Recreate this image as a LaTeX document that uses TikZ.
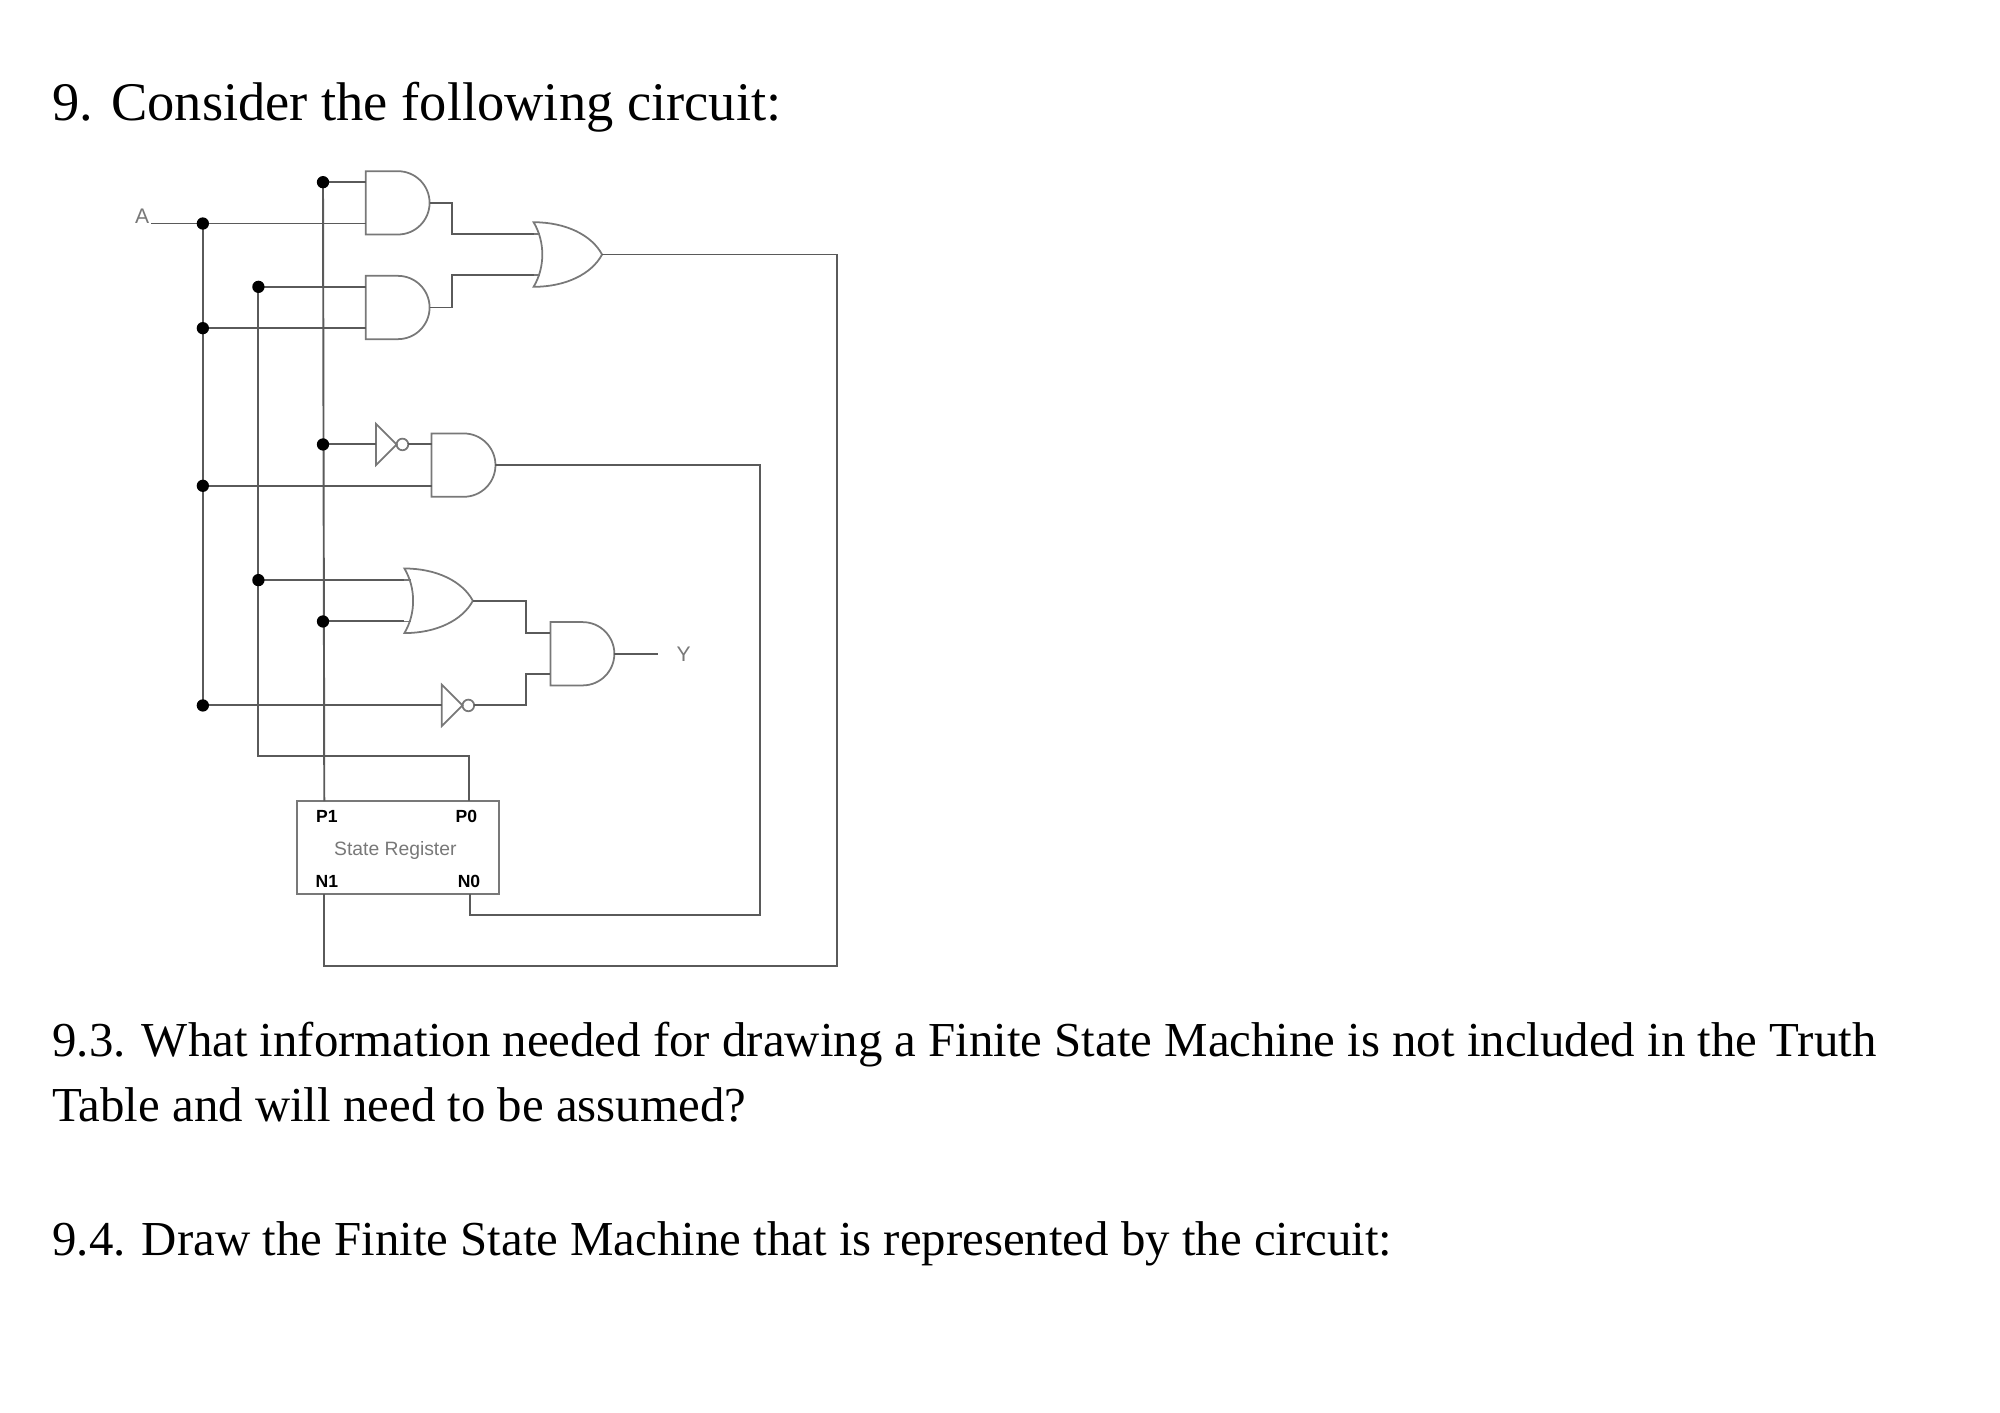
\documentclass[tikz,border=0pt]{standalone}
\usepackage{fontspec}
\setmainfont{Liberation Serif}
\newfontfamily\wirefont{Liberation Sans}
\usepackage{tikz}
\definecolor{wiregray}{RGB}{90,90,90}
\definecolor{gategray}{RGB}{120,120,120}

\tikzset{
  wire/.style={wiregray, line width=0.55pt},
  gate/.style={gategray, line width=0.5pt},
  joint/.style={circle, fill=black, inner sep=0pt, minimum size=3.5pt},
  pinlabel/.style={font=\wirefont\bfseries\fontsize{5}{6}\selectfont, inner sep=0pt},
  andg/.pic={
    \draw[gate] (0,-24.5) -- (25,-24.5) arc[start angle=-90, end angle=90, radius=24.5] -- (0,24.5) -- cycle;
    \coordinate (-in1) at (0,-16);
    \coordinate (-in2) at (0,16);
    \coordinate (-out) at (49.5,0);
  },
  org/.pic={
    \draw[gate] (0,-25) .. controls (25,-25) and (45,-15) .. (53,0)
      .. controls (45,15) and (25,25) .. (0,25)
      .. controls (9,10) and (9,-10) .. (0,-25) -- cycle;
    \draw[gate] (0,-16) -- (5,-16) (0,16) -- (5,16);
    \coordinate (-in1) at (0,-16);
    \coordinate (-in2) at (0,16);
    \coordinate (-out) at (53,0);
  },
  notg/.pic={
    \draw[gate] (0,-16) -- (16,0) -- (0,16) -- cycle;
    \draw[gate] (20.5,0) circle (4.5);
    \coordinate (-in) at (0,0);
    \coordinate (-out) at (25,0);
  }
}

\begin{document}
\begin{tikzpicture}[x=0.01292cm, y=-0.01292cm]
  \useasboundingbox (0,0) rectangle (1548,1093);

  % question text
  \node[anchor=base west, inner sep=0pt, font=\fontsize{15.5}{18}\selectfont] (title) at (40,93) {9. Consider the following circuit:};
  \node[anchor=base west, inner sep=0pt, font=\fontsize{13.9}{16}\selectfont] (q3a) at (40,818) {9.3. What information needed for drawing a Finite State Machine is not included in the Truth};
  \node[anchor=base west, inner sep=0pt, font=\fontsize{13.9}{16}\selectfont] (q3b) at (40,868) {Table and will need to be assumed?};
  \node[anchor=base west, inner sep=0pt, font=\fontsize{13.9}{16}\selectfont] (q4) at (40,972) {9.4. Draw the Finite State Machine that is represented by the circuit:};

  % gates
  \pic (and1) at (283,157) {andg};
  \pic (and2) at (283,238) {andg};
  \pic (or1)  at (413,197) {org};
  \pic (not1) at (291,344) {notg};
  \pic (and3) at (334,360) {andg};
  \pic (or2)  at (313,465) {org};
  \pic (and4) at (426,506) {andg};
  \pic (not2) at (342,546) {notg};

  % state register
  \draw[gate] (230,620) rectangle (386,692);
  \node[font=\wirefont\fontsize{5.5}{6}\selectfont, text=gategray] (reg) at (306,658) {State Register};
  \node[pinlabel] (p1) at (253,632) {P1};
  \node[pinlabel] (p0) at (361,632) {P0};
  \node[pinlabel] (n1) at (253,682) {N1};
  \node[pinlabel] (n0) at (363,682) {N0};
  \coordinate (P1pin) at (251,620);
  \coordinate (P0pin) at (363,620);
  \coordinate (N1pin) at (251,692);
  \coordinate (N0pin) at (364,692);

  % input A and buses
  \node[font=\wirefont\fontsize{6}{7}\selectfont, text=gategray] (A) at (110,167) {A};
  \coordinate (Ain) at (117,173);
  \draw[wire] (Ain) -- (and1-in2);
  \draw[wire] (157,173) -- (157,546);
  \draw[wire] (200,222) -- (200,585) -| (P0pin);
  \draw[wire] (250,141) -- (P1pin);

  % bus taps
  \draw[wire] (157,0 |- and2-in2) -- (and2-in2);
  \draw[wire] (157,0 |- and3-in2) -- (and3-in2);
  \draw[wire] (157,0 |- not2-in) -- (not2-in);
  \draw[wire] (200,0 |- and2-in1) -- (and2-in1);
  \draw[wire] (200,0 |- or2-in1) -- (or2-in1);
  \draw[wire] (250,0 |- and1-in1) -- (and1-in1);
  \draw[wire] (250,0 |- not1-in) -- (not1-in);
  \draw[wire] (250,0 |- or2-in2) -- (or2-in2);
  \foreach \p in {(157,173),(157,254),(157,376),(157,546),(200,222),(200,449),(250,141),(250,344),(250,481)}
    \node[joint] at \p {};

  % gate interconnects
  \draw[wire] (and1-out) -- (350,157) |- (or1-in1);
  \draw[wire] (and2-out) -- (350,238) |- (or1-in2);
  \draw[wire] (not1-out) -- (and3-in1);
  \draw[wire] (or2-out) -- (407,465) |- (and4-in1);
  \draw[wire] (not2-out) -- (407,546) |- (and4-in2);
  \coordinate (Yend) at (509,506);
  \draw[wire] (and4-out) -- (Yend);
  \node[font=\wirefont\fontsize{6}{7}\selectfont, text=gategray, anchor=west] (Y) at (514,506) {Y};

  % feedback to the register
  \draw[wire] (or1-out) -- (648,197) -- (648,748) -| (N1pin);
  \draw[wire] (and3-out) -- (588,360) -- (588,708) -| (N0pin);
\end{tikzpicture}
\end{document}
